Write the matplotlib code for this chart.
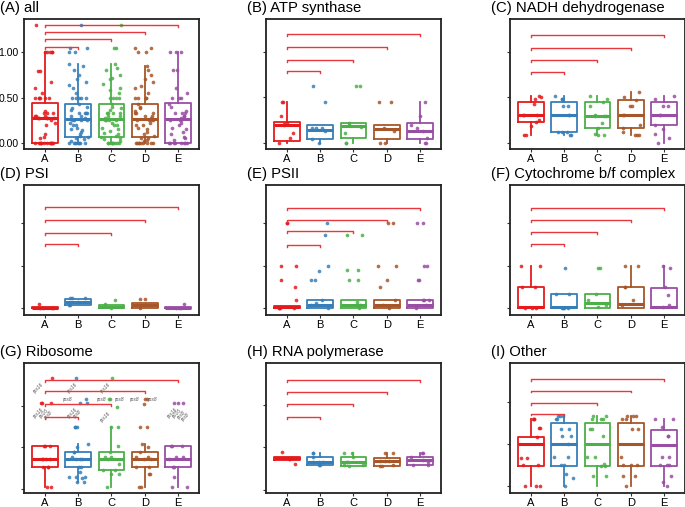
import numpy as np
import matplotlib
matplotlib.use('Agg')
import matplotlib.pyplot as plt

plt.rcParams['font.family'] = ['Liberation Sans', 'DejaVu Sans']

groups = ['A', 'B', 'C', 'D', 'E']
colors = ['#E41A1C', '#377EB8', '#4DAF4A', '#A65628', '#984EA3']
titles = ['(A) all', '(B) ATP synthase', '(C) NADH dehydrogenase',
          '(D) PSI', '(E) PSII', '(F) Cytochrome b/f complex',
          '(G) Ribosome', '(H) RNA polymerase', '(I) Other']

# box stats per group: [whislo, q1, median, q3, whishi]
all_box = [[0, 0, 0.28, 0.44, 1.0], [0, 0.07, 0.26, 0.43, 0.87], [0, 0.07, 0.26, 0.43, 0.87],
           [0, 0.07, 0.26, 0.43, 0.85], [0, 0, 0.26, 0.44, 1.0]]
all_pts = [
    [0]*12 + [0.05, 0.07, 0.1, 0.2, 0.22, 0.25, 0.27, 0.27, 0.27, 0.28, 0.28, 0.3, 0.3, 0.3, 0.33, 0.33, 0.33,
              0.35, 0.5, 0.5, 0.5, 0.5, 0.5, 0.5, 0.55, 0.6, 0.67, 0.79, 0.79, 1.0, 1.0, 1.0, 1.0, 1.0, 1.3],
    [0]*8 + [0.02, 0.04, 0.05, 0.07, 0.08, 0.1, 0.12, 0.14, 0.15, 0.17, 0.2, 0.2, 0.22, 0.25, 0.25, 0.25, 0.25,
             0.27, 0.3, 0.3, 0.33, 0.33, 0.33, 0.33, 0.36, 0.38, 0.4, 0.43, 0.5, 0.5, 0.5, 0.5, 0.5, 0.55,
             0.6, 0.64, 0.67, 0.7, 0.75, 0.8, 0.85, 0.87, 1.0, 1.0, 1.05, 1.05, 1.3],
    [0]*9 + [0.02, 0.04, 0.05, 0.07, 0.08, 0.1, 0.11, 0.13, 0.15, 0.17, 0.2, 0.2, 0.22, 0.25, 0.25, 0.25, 0.25,
             0.27, 0.3, 0.3, 0.33, 0.33, 0.33, 0.33, 0.36, 0.38, 0.4, 0.43, 0.5, 0.5, 0.5, 0.5, 0.55, 0.58,
             0.6, 0.65, 0.7, 0.72, 0.75, 0.8, 0.83, 0.87, 1.05, 1.05, 1.3],
    [0]*9 + [0.02, 0.03, 0.05, 0.06, 0.08, 0.1, 0.12, 0.15, 0.17, 0.2, 0.2, 0.22, 0.25, 0.25, 0.25, 0.25,
             0.28, 0.3, 0.3, 0.33, 0.33, 0.33, 0.35, 0.38, 0.4, 0.43, 0.5, 0.5, 0.5, 0.5, 0.55, 0.6,
             0.63, 0.67, 0.7, 0.75, 0.8, 0.85, 1.0, 1.0, 1.05, 1.05],
    [0]*8 + [0.03, 0.05, 0.07, 0.1, 0.12, 0.15, 0.17, 0.2, 0.22, 0.25, 0.25, 0.25, 0.27, 0.3, 0.3, 0.33,
             0.33, 0.33, 0.35, 0.4, 0.43, 0.5, 0.5, 0.5, 0.55, 0.6, 0.8, 0.8, 1.0, 1.0, 1.0],
]
all_br = [1.06, 1.14, 1.22, 1.30]

atp_box = [[0, 0.02, 0.20, 0.23, 0.45], [0, 0.04, 0.14, 0.20, 0.20], [0, 0.05, 0.185, 0.22, 0.22],
           [0, 0.04, 0.15, 0.20, 0.20], [0, 0.04, 0.13, 0.22, 0.45]]
atp_pts = [[0, 0.05, 0.11, 0.2, 0.21, 0.22, 0.29, 0.45, 0.45],
           [0, 0.04, 0.13, 0.16, 0.16, 0.16, 0.45, 0.62],
           [0, 0, 0.11, 0.17, 0.2, 0.22, 0.62, 0.62],
           [0, 0, 0.13, 0.16, 0.45, 0.45],
           [0, 0, 0.05, 0.13, 0.16, 0.2, 0.29, 0.45]]
atp_br = [0.79, 0.91, 1.06, 1.20]

nadh_box = [[0.085, 0.23, 0.31, 0.45, 0.51], [0.085, 0.12, 0.31, 0.45, 0.51], [0.085, 0.16, 0.29, 0.45, 0.51],
            [0.085, 0.16, 0.31, 0.47, 0.56], [0, 0.19, 0.31, 0.45, 0.51]]
nadh_pts = [[0.085, 0.085, 0.18, 0.23, 0.25, 0.31, 0.31, 0.31, 0.43, 0.48, 0.5, 0.51],
            [0.09, 0.09, 0.12, 0.12, 0.12, 0.31, 0.31, 0.4, 0.4, 0.48, 0.48, 0.51],
            [0.085, 0.085, 0.1, 0.16, 0.22, 0.29, 0.29, 0.29, 0.31, 0.4, 0.45, 0.48, 0.52],
            [0.085, 0.085, 0.085, 0.12, 0.16, 0.2, 0.31, 0.31, 0.4, 0.4, 0.47, 0.5, 0.56],
            [0, 0.05, 0.1, 0.15, 0.19, 0.31, 0.31, 0.4, 0.4, 0.48, 0.51]]
nadh_br = [0.78, 0.91, 1.05, 1.19]

psi_box = [[0, 0, 0, 0.01, 0.01], [0.03, 0.03, 0.063, 0.10, 0.10], [0, 0, 0.01, 0.03, 0.03],
           [0, 0, 0.03, 0.05, 0.05], [0, 0, 0, 0.01, 0.01]]
psi_pts = [[0, 0, 0, 0, 0.04], [0.03, 0.03, 0.063, 0.12, 0.12, 0.12], [0, 0.04, 0.09],
           [0, 0.03, 0.1, 0.1], [0, 0, 0, 0.04]]
psi_br = [0.755, 0.89, 1.036, 1.19]

psii_box = [[0, 0, 0.01, 0.02, 0.02], [0, 0, 0.03, 0.09, 0.09], [0, 0, 0.03, 0.09, 0.09],
            [0, 0, 0.03, 0.09, 0.09], [0, 0, 0.03, 0.09, 0.09]]
psii_pts = [[0, 0, 0, 0, 0.09, 0.25, 0.33, 0.5, 0.5, 1.0, 1.0],
            [0, 0.03, 0.05, 0.09, 0.33, 0.33, 0.44, 0.5, 0.86, 1.0],
            [0, 0.03, 0.03, 0.07, 0.33, 0.33, 0.45, 0.45, 0.86, 0.86],
            [0, 0.03, 0.09, 0.25, 0.33, 0.5, 0.5, 1.0, 1.0],
            [0, 0.03, 0.09, 0.09, 0.09, 0.33, 0.33, 0.5, 0.5, 1.0, 1.0]]
psii_br = [0.743, 0.905, 1.04, 1.18]

cyt_box = [[0, 0, 0.005, 0.245, 0.5], [0, 0, 0.01, 0.16, 0.16], [0, 0, 0.05, 0.16, 0.16],
           [0, 0, 0.04, 0.25, 0.5], [0, 0, 0.01, 0.23, 0.5]]
cyt_pts = [[0, 0, 0, 0.25, 0.25, 0.5, 0.5], [0, 0, 0, 0, 0.16, 0.16, 0.47],
           [0.01, 0.03, 0.09, 0.16, 0.47, 0.47], [0.03, 0.09, 0.25, 0.25, 0.5, 0.5],
           [0.01, 0.03, 0.15, 0.25, 0.47, 0.5]]
cyt_br = [0.755, 0.893, 1.036, 1.18]

ribo_box = [[0.02, 0.27, 0.36, 0.52, 0.52], [0.09, 0.27, 0.36, 0.45, 0.54], [0.02, 0.23, 0.36, 0.45, 0.75],
            [0.02, 0.27, 0.36, 0.45, 0.54], [0.02, 0.27, 0.36, 0.52, 0.52]]
ribo_pts = [[0.02, 0.02, 0.27, 0.27, 0.27, 0.36, 0.36, 0.36, 0.36, 0.52, 0.52, 0.52, 1.03, 1.03, 1.03, 1.33],
            [0.09, 0.09, 0.13, 0.15, 0.15, 0.15, 0.2, 0.27, 0.27, 0.36, 0.36, 0.36, 0.38, 0.45, 0.45, 0.5,
             0.54, 0.75, 0.75, 0.75, 1.03, 1.03, 1.08, 1.33],
            [0.02, 0.18, 0.18, 0.23, 0.23, 0.3, 0.36, 0.38, 0.38, 0.45, 0.52, 0.75, 0.75, 0.98, 1.08, 1.08, 1.33],
            [0.02, 0.02, 0.18, 0.18, 0.27, 0.27, 0.36, 0.36, 0.38, 0.38, 0.45, 0.5, 0.54, 0.75, 0.75,
             1.02, 1.08, 1.08],
            [0.02, 0.02, 0.15, 0.27, 0.27, 0.36, 0.38, 0.38, 0.52, 0.52, 0.52, 1.03, 1.03, 1.03]]
ribo_br = [0.864, 1.024, 1.172, 1.312]
# gene labels: group index, value, text, rotation
ribo_labels = [(0, 1.33, 'rps16', 45), (1, 1.33, 'rps16', 45), (2, 1.33, 'rps16', 45),
               (1, 1.08, 'rps8', 0), (2, 1.08, 'rps8', 0), (2, 1.08, 'rps8', 0),
               (3, 1.08, 'rps8', 0), (3, 1.08, 'rps8', 0),
               (0, 1.03, 'rps16', 45), (0, 1.03, 'rpl16', 45), (0, 1.03, 'rps8', 45),
               (1, 1.03, 'rps16', 45), (1, 1.03, 'rps8', 45), (2, 0.98, 'rps16', 45),
               (4, 1.03, 'rps16', 45), (4, 1.03, 'rpl16', 45), (4, 1.03, 'rps8', 45), (4, 1.03, 'rps8', 45)]

rpo_box = [[0.345, 0.345, 0.37, 0.385, 0.385], [0.29, 0.29, 0.33, 0.38, 0.43], [0.28, 0.28, 0.33, 0.38, 0.43],
           [0.28, 0.28, 0.34, 0.37, 0.43], [0.29, 0.29, 0.35, 0.39, 0.43]]
rpo_pts = [[0.30, 0.36, 0.36, 0.37, 0.37, 0.37, 0.44],
           [0.29, 0.29, 0.33, 0.33, 0.33, 0.38, 0.43, 0.43],
           [0.28, 0.29, 0.29, 0.33, 0.33, 0.38, 0.43, 0.43],
           [0.28, 0.28, 0.29, 0.34, 0.34, 0.34, 0.43, 0.43],
           [0.29, 0.29, 0.33, 0.35, 0.38, 0.43, 0.43]]
rpo_br = [0.855, 1.01, 1.153, 1.294]

oth_box = [[0, 0.24, 0.5, 0.58, 0.8], [0, 0.24, 0.5, 0.75, 0.83], [0, 0.24, 0.5, 0.75, 0.83],
           [0, 0.24, 0.5, 0.75, 0.83], [0, 0.24, 0.49, 0.67, 0.8]]
oth_pts = [[0, 0, 0, 0.25, 0.25, 0.33, 0.33, 0.58, 0.69, 0.69, 0.8, 0.8, 0.8],
           [0, 0.1, 0.15, 0.25, 0.25, 0.35, 0.35, 0.5, 0.6, 0.6, 0.68, 0.68, 0.8, 0.8, 0.83, 0.83, 0.83],
           [0.12, 0.12, 0.24, 0.24, 0.27, 0.35, 0.35, 0.6, 0.68, 0.68, 0.8, 0.8, 0.8, 0.83, 0.83],
           [0, 0.12, 0.12, 0.25, 0.25, 0.25, 0.35, 0.68, 0.68, 0.8, 0.8, 0.83, 0.83, 0.83],
           [0, 0.05, 0.12, 0.25, 0.25, 0.25, 0.35, 0.35, 0.6, 0.6, 0.7, 0.8, 0.8]]
oth_br = [0.862, 0.984, 1.134, 1.268]

panels = [(all_box, all_pts, all_br), (atp_box, atp_pts, atp_br), (nadh_box, nadh_pts, nadh_br),
          (psi_box, psi_pts, psi_br), (psii_box, psii_pts, psii_br), (cyt_box, cyt_pts, cyt_br),
          (ribo_box, ribo_pts, ribo_br), (rpo_box, rpo_pts, rpo_br), (oth_box, oth_pts, oth_br)]
ylims = [(-0.066, 1.364), (-0.07, 1.365), (-0.07, 1.365),
         (-0.087, 1.456), (-0.087, 1.456), (-0.087, 1.456),
         (-0.048, 1.512), (-0.039, 1.49), (-0.079, 1.46)]

W, H = 685, 507
fig = plt.figure(figsize=(W / 100, H / 100), dpi=100)
col_left = [24, 266, 510]
row_top = [19, 185, 363]
aw, ah = 175, 130
rng = np.random.default_rng(7)

for k, (box, pts, br) in enumerate(panels):
    r, c = divmod(k, 3)
    ax = fig.add_axes([col_left[c] / W, 1 - (row_top[r] + ah) / H, aw / W, ah / H])
    for i, col in enumerate(colors):
        lo, q1, med, q3, hi = box[i]
        st = [dict(whislo=lo, q1=q1, med=med, q3=q3, whishi=hi, fliers=[])]
        ax.bxp(st, positions=[i], widths=0.77, showfliers=False, showcaps=False,
               boxprops=dict(color=col, lw=1.3), whiskerprops=dict(color=col, lw=1.3),
               medianprops=dict(color=col, lw=2.2))
        y = np.array(pts[i], dtype=float)
        x = i + rng.uniform(-0.3, 0.3, size=len(y))
        ax.scatter(x, y, s=7, color=col, alpha=0.85, lw=0, zorder=3)
    t = 0.022
    for j, yb in enumerate(br):
        ax.plot([0, 0, j + 1, j + 1], [yb - t, yb, yb, yb - t], color='#E8383D', lw=1.0, zorder=4)
    if k == 6:
        seen = {}
        for gi, yv, txt, rot in ribo_labels:
            n = seen.get((gi, yv), 0)
            seen[(gi, yv)] = n + 1
            if rot == 0:
                ax.text(gi - 0.15 + 0.55 * n, yv, txt, fontsize=3.5, style='italic', color='#555555',
                        ha='right', va='center')
            else:
                ax.text(gi - 0.1 + 0.13 * n, yv - 0.04 - 0.02 * n, txt, fontsize=3.5, style='italic',
                        color='#555555', rotation=rot, ha='right', va='top', rotation_mode='anchor')
    ax.set_xlim(-0.62, 4.63)
    ax.set_ylim(*ylims[k])
    ax.set_xticks(range(5))
    ax.set_xticklabels(groups, fontsize=8)
    ax.set_yticks([0, 0.5, 1.0])
    if k == 0:
        ax.set_yticklabels(['0.00', '0.50', '1.00'], fontsize=7.5)
    else:
        ax.set_yticklabels([])
    ax.tick_params(length=2.5, width=0.8, pad=1.2, colors='#333333', labelcolor='black')
    for s in ax.spines.values():
        s.set_linewidth(1.3)
        s.set_color('#222222')
    ax.text(-0.135 if c == 0 else -0.11, 1.085, titles[k], transform=ax.transAxes,
            fontsize=10.7, ha='left', va='center')

fig.savefig('out.png', dpi=100)
